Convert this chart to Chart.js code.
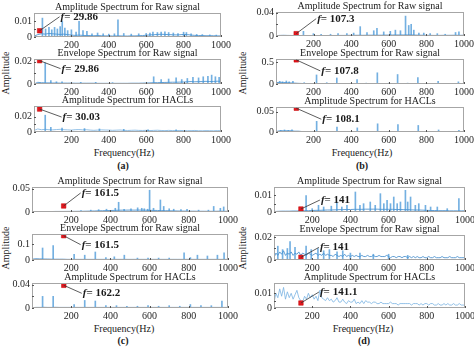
<!DOCTYPE html>
<html>
<head>
<meta charset="utf-8">
<script src="https://cdn.jsdelivr.net/npm/chart.js@4.4.1/dist/chart.umd.min.js"></script>
<style>
  body { margin: 0; width: 474px; height: 347px; position: relative; overflow: hidden; background: #fff;
         font-family: "Liberation Serif", "Times New Roman", serif; color: #1a1a1a; }
  canvas { position: absolute; }
  .txt { position: absolute; white-space: nowrap; transform: translate(-50%, -50%); font-size: 10px; }
  .ylab { position: absolute; white-space: nowrap; font-size: 10px; transform: translate(-50%, -50%) rotate(-90deg); }
  .cap { font-weight: bold; }
</style>
</head>
<body>
<div class="ylab" style="left:5px;top:73px">Amplitude</div>
<div class="ylab" style="left:242px;top:73px">Amplitude</div>
<div class="ylab" style="left:5px;top:248px">Amplitude</div>
<div class="ylab" style="left:242px;top:248px">Amplitude</div>
<div class="txt" style="left:124px;top:152px">Frequency(Hz)</div>
<div class="txt" style="left:362px;top:152px">Frequency(Hz)</div>
<div class="txt" style="left:124px;top:328px">Frequency(Hz)</div>
<div class="txt" style="left:363px;top:328px">Frequency(Hz)</div>
<div class="txt cap" style="left:123px;top:165px">(a)</div>
<div class="txt cap" style="left:362px;top:165px">(b)</div>
<div class="txt cap" style="left:123px;top:340px">(c)</div>
<div class="txt cap" style="left:364px;top:340px">(d)</div>
<script>
/*
 * Espectros de amplitud / envolvente / HACLs, 4 casos (a)-(d).
 * Piso de ruido: un valor cada 20 Hz (o cada 10 Hz) de 0 a 1000 Hz.
 * Picos: frecuencia y amplitud.
 */
const X_TICKS = [200, 400, 600, 800, 1000];
const TITLE_RAW = 'Amplitude Spectrum for Raw signal';
const TITLE_ENV = 'Envelope Spectrum for Raw signal';
const TITLE_HACL = 'Amplitude Spectrum for HACLs';

// ---- (a)
const A1_FLOOR = [.0005, .0015, .0020, .0018, .0022, .0020, .0018, .0016, .0018, .0015, .0012,
  .0010, .0012, .0010, .0009, .0009, .0008, .0009, .0008, .0007, .0007,
  .0006, .0007, .0007, .0006, .0006, .0007, .0007, .0008, .0009, .0011,
  .0013, .0014, .0016, .0017, .0016, .0015, .0014, .0013, .0014, .0016,
  .0015, .0012, .0010, .0009, .0009, .0008, .0008, .0008, .0007, .0007];
const A1_PEAK_HZ = [45, 62, 80, 95, 110, 125, 140, 151, 165, 180, 200, 225, 241, 262, 283, 310, 340, 370, 400, 430, 449,
  480, 520, 560, 600, 620, 636, 660, 680, 700, 720, 745, 770, 800, 815, 840, 870, 900, 940, 975];
const A1_PEAK_AMP = [.0118, .005, .006, .0045, .006, .005, .0065, .0100, .0055, .004, .0045, .003, .0098, .0040, .0035, .002, .0025, .002, .0018, .0020, .0108,
  .0022, .0018, .002, .0022, .0025, .0030, .0028, .0030, .0032, .0028, .0025, .0022, .0030, .0028, .0020, .0016, .0015, .0013, .0012];

const A2_FLOOR = [0, .0015, .0012, .0010, .0010, .0009, .0009, .0008, .0008, .0008, .0008,
  .0007, .0007, .0007, .0007, .0007, .0007, .0006, .0006, .0006, .0006,
  .0006, .0006, .0006, .0006, .0006, .0007, .0007, .0007, .0008, .0009,
  .0010, .0012, .0012, .0013, .0014, .0015, .0016, .0016, .0017, .0018,
  .0020, .0022, .0020, .0021, .0022, .0024, .0022, .0023, .0025, .0024];
const A2_PEAK_HZ = [60, 90, 120, 150, 250, 330, 420, 640, 680, 720, 760, 790, 820, 850, 880, 905, 930, 950, 970, 990];
const A2_PEAK_AMP = [.019, .003, .002, .002, .0015, .0015, .0012, .0065, .004, .0045, .0055, .004, .005, .006, .0055, .0065, .007, .008, .0065, .006];

const A3_FLOOR = [.002, .004, .003, .0035, .003, .0028, .0032, .0035, .003, .0028, .0025,
  .003, .0032, .0028, .003, .0025, .0022, .0025, .0028, .0026, .0025,
  .0022, .0024, .0026, .0022, .002, .0022, .0024, .0021, .002, .0022,
  .0019, .0021, .0023, .002, .0018, .0021, .0019, .0018, .002, .0019,
  .0017, .0018, .002, .0017, .0016, .0018, .0017, .0016, .0018, .0017];
const A3_PEAK_HZ = [60, 90, 150, 270, 350, 480, 610, 760];
const A3_PEAK_AMP = [.022, .006, .005, .0045, .004, .0035, .003, .003];

// ---- (b)
const B1_FLOOR = [.0005, .001, .0012, .001, .0009, .0008, .0008, .0009, .0008, .0008, .0008,
  .0007, .0008, .0008, .0009, .0009, .0009, .001, .001, .0011, .0012,
  .0012, .0013, .0012, .0013, .0014, .0014, .0013, .0014, .0015, .0016,
  .0017, .0018, .0017, .0018, .0019, .0018, .0016, .0014, .0013, .0012,
  .0011, .001, .001, .0011, .0012, .0012, .0013, .0013, .0012, .0012];
const B1_PEAK_HZ = [146, 199, 240, 290, 330, 377, 413, 448, 484, 520, 537, 573, 608, 635, 662, 689, 706, 719, 733, 760, 786, 820, 858, 900, 955, 973];
const B1_PEAK_AMP = [.008, .004, .003, .003, .004, .004, .005, .016, .006, .009, .013, .007, .008, .01, .009, .034, .018, .02, .01, .005, .005, .004, .004, .003, .006, .007];

const B2_FLOOR = [.03, .04, .035, .03, .025, .02, .015, .012, .012, .01, .01,
  .01, .01, .009, .009, .008, .008, .008, .007, .007, .007,
  .007, .006, .006, .006, .006, .006, .006, .006, .006, .006,
  .005, .005, .005, .005, .005, .005, .005, .005, .005, .005,
  .005, .005, .005, .005, .005, .005, .005, .005, .005, .005];
const B2_PEAK_HZ = [20, 35, 55, 70, 90, 150, 215.6, 270, 323.4, 431.2, 480, 539, 600, 646.8, 700, 754.6, 862.4, 970.2];
const B2_PEAK_AMP = [.06, .05, .07, .05, .06, .03, .21, .03, .14, .1, .02, .26, .02, .22, .02, .15, .06, .05];

const B3_FLOOR = [.001, .003, .003, .003, .003, .002, .002, .001, .001, .001, .001,
  .001, .001, .001, .001, .001, .001, .001, .001, .001, .001,
  .001, .001, .001, .001, .001, .001, .001, .001, .001, .001,
  .001, .001, .001, .001, .001, .001, .001, .001, .001, .001,
  .001, .001, .001, .001, .001, .001, .001, .001, .001, .001];
const B3_PEAK_HZ = [25, 45, 65, 85, 216.2, 324.3, 432.4, 540.5, 648.6, 756.7, 864.8, 972.9];
const B3_PEAK_AMP = [.004, .005, .004, .005, .026, .012, .01, .02, .018, .016, .005, .004];

// ---- (c)
const C1_FLOOR = [.0005, .001, .001, .001, .001, .001, .0012, .0012, .0012, .0013, .0013,
  .0014, .0015, .0016, .0018, .002, .0022, .0025, .0028, .003, .0032,
  .0035, .0038, .004, .004, .0042, .004, .0042, .004, .0038, .0036,
  .0035, .0033, .003, .0028, .0026, .0024, .0022, .002, .002, .0018,
  .0018, .0017, .0016, .0016, .0015, .0015, .0016, .0018, .0016, .0015];
const C1_PEAK_HZ = [250, 300, 340, 380, 425, 442, 470, 505, 539, 560, 573, 590, 600, 620, 655, 672, 700, 723, 760, 791, 850, 900, 927, 961, 978];
const C1_PEAK_AMP = [.003, .004, .005, .006, .008, .021, .006, .007, .009, .008, .007, .006, .047, .008, .026, .012, .007, .006, .005, .006, .004, .004, .012, .008, .011];

const C2_FLOOR = [.005, .008, .007, .006, .006, .005, .005, .005, .005, .004, .004,
  .004, .004, .004, .004, .004, .004, .004, .004, .004, .004,
  .004, .004, .004, .004, .004, .004, .004, .004, .004, .004,
  .004, .004, .004, .004, .004, .004, .004, .004, .004, .004,
  .004, .004, .004, .004, .004, .004, .004, .004, .004, .004];
const C2_PEAK_HZ = [54, 108, 215, 269, 323, 377, 420, 471, 538, 592, 646, 700, 776, 808, 844, 895, 946, 980];
const C2_PEAK_AMP = [.075, .09, .035, .03, .05, .015, .02, .03, .012, .012, .012, .012, .045, .015, .03, .025, .03, .045];

const C3_FLOOR = [.0005, .001, .001, .0012, .001, .001, .0012, .001, .001, .001, .001,
  .001, .001, .001, .001, .001, .001, .001, .001, .001, .001,
  .001, .001, .001, .001, .001, .001, .001, .001, .001, .001,
  .001, .001, .001, .001, .001, .001, .001, .001, .001, .001,
  .001, .001, .001, .001, .001, .001, .001, .001, .001, .001];
const C3_PEAK_HZ = [54, 108, 215, 269, 323, 377, 431, 484, 538, 592, 646, 700, 754, 808, 862, 915, 969];
const C3_PEAK_AMP = [.02, .02, .006, .013, .012, .004, .004, .003, .003, .004, .003, .004, .003, .006, .004, .004, .012];

// ---- (d)
const D1_FLOOR = [.0003, .0004, .0005, .0005, .0005, .0006, .0006, .0007, .0008, .0008, .0009,
  .001, .001, .0011, .0012, .0012, .0013, .0014, .0014, .0015, .0015,
  .0016, .0016, .0016, .0017, .0017, .0017, .0017, .0016, .0016, .0016,
  .0016, .0015, .0015, .0014, .0014, .0013, .0012, .0012, .0011, .001,
  .0009, .0009, .0008, .0008, .0008, .0007, .0007, .0007, .0007, .0007];
const D1_PEAK_HZ = [168, 200, 233, 260, 300, 329, 355, 382, 426, 450, 469, 504, 530, 557, 575, 592, 610, 627, 645, 662, 688, 700, 715, 740, 758, 793, 820, 855, 907, 968];
const D1_PEAK_AMP = [.0098, .002, .004, .003, .0035, .006, .003, .004, .012, .004, .005, .006, .004, .011, .005, .007, .005, .009, .005, .006, .013, .006, .009, .004, .005, .004, .003, .003, .002, .008];

// cada 10 Hz
const D2_FLOOR = [.002, .006, .004, .007, .005, .008, .004, .006, .005, .007,
  .004, .006, .005, .007, .004, .006, .005, .004, .006, .005,
  .004, .005, .006, .004, .005, .004, .006, .004, .005, .004,
  .004, .003, .005, .004, .003, .004, .003, .005, .003, .004,
  .003, .004, .003, .004, .003, .003, .004, .003, .003, .004,
  .003, .003, .004, .003, .003, .004, .003, .003, .003, .004,
  .003, .002, .003, .003, .002, .003, .003, .002, .003, .003,
  .002, .003, .002, .003, .002, .003, .002, .002, .003, .002,
  .002, .003, .002, .002, .003, .002, .002, .002, .003, .002,
  .002, .002, .003, .002, .002, .002, .003, .002, .002, .002, .002];
const D2_PEAK_HZ = [20, 45, 70, 84, 110, 168, 195, 230, 260, 290, 330, 360, 400, 450, 520, 600, 700];
const D2_PEAK_AMP = [.012, .009, .010, .016, .011, .012, .009, .010, .008, .009, .007, .008, .006, .006, .005, .005, .004];

const D3_FLOOR = [.004, .010, .007, .013, .008, .014, .006, .011, .007, .010,
  .006, .009, .012, .007, .005, .004, .008, .006, .010, .007,
  .009, .006, .008, .005, .012, .007, .006, .005, .007, .005,
  .006, .004, .005, .007, .004, .004, .006, .004, .003, .005,
  .004, .004, .006, .003, .004, .003, .005, .003, .005, .004,
  .004, .003, .004, .004, .003, .003, .004, .003, .003, .003,
  .003, .004, .003, .003, .003, .002, .003, .003, .003, .003,
  .003, .003, .002, .003, .003, .003, .002, .003, .002, .003,
  .003, .002, .003, .003, .002, .002, .003, .002, .002, .003,
  .002, .003, .002, .002, .003, .002, .002, .003, .002, .002, .002];
const D3_PEAK_HZ = [];
const D3_PEAK_AMP = [];

// frecuencia marcada (cuadro rojo) y su amplitud
const MARK_HZ  = [29.86, 29.86, 30.03, 107.3, 107.8, 108.1, 161.5, 161.5, 162.2, 141, 141, 141.1];
const MARK_AMP = [.0039, .021, .030, .004, .56, .058, .013, .152, .039, .0018, .0023, .0034];

const Y_MAX = [.015, .0225, .034, .041, .58, .061, .054, .1625, .043, .015, .0217, .017];
const Y_TICKS = [[0, .005, .01], [0, .01, .02], [0, .01, .02],
                 [0, .02, .04], [0, .5], [0, .05],
                 [0, .05], [0, .1], [0, .02, .04],
                 [0, .005, .01], [0, .01, .02], [0, .005, .01]];

// caja de cada subgráfico [izq, arriba, der, abajo], columna y desplazamiento del texto
const PLOTS = [
  { col: 0,   box: [34, 13, 221, 37],   floor: A1_FLOOR, hz: A1_PEAK_HZ, amp: A1_PEAK_AMP, title: TITLE_RAW,  dx: 21, dy: -14 },
  { col: 0,   box: [34, 59, 221, 84],   floor: A2_FLOOR, hz: A2_PEAK_HZ, amp: A2_PEAK_AMP, title: TITLE_ENV,  dx: 22, dy: 8 },
  { col: 0,   box: [34, 106, 221, 132], floor: A3_FLOOR, hz: A3_PEAK_HZ, amp: A3_PEAK_AMP, title: TITLE_HACL, dx: 23, dy: 8, light: true },
  { col: 237, box: [276, 12, 464, 36],  floor: B1_FLOOR, hz: B1_PEAK_HZ, amp: B1_PEAK_AMP, title: TITLE_RAW,  dx: 21, dy: -15 },
  { col: 237, box: [276, 59, 464, 84],  floor: B2_FLOOR, hz: B2_PEAK_HZ, amp: B2_PEAK_AMP, title: TITLE_ENV,  dx: 25, dy: 11 },
  { col: 237, box: [276, 107, 464, 132],floor: B3_FLOOR, hz: B3_PEAK_HZ, amp: B3_PEAK_AMP, title: TITLE_HACL, dx: 26, dy: 11 },
  { col: 0,   box: [32, 187, 228, 212], floor: C1_FLOOR, hz: C1_PEAK_HZ, amp: C1_PEAK_AMP, title: TITLE_RAW,  dx: 18, dy: -13 },
  { col: 0,   box: [32, 234, 228, 260], floor: C2_FLOOR, hz: C2_PEAK_HZ, amp: C2_PEAK_AMP, title: TITLE_ENV,  dx: 18, dy: 9 },
  { col: 0,   box: [32, 283, 228, 308], floor: C3_FLOOR, hz: C3_PEAK_HZ, amp: C3_PEAK_AMP, title: TITLE_HACL, dx: 19, dy: 8 },
  { col: 237, box: [274, 187, 465, 212],floor: D1_FLOOR, hz: D1_PEAK_HZ, amp: D1_PEAK_AMP, title: TITLE_RAW,  dx: 20, dy: -9 },
  { col: 237, box: [274, 235, 465, 260],floor: D2_FLOOR, hz: D2_PEAK_HZ, amp: D2_PEAK_AMP, title: TITLE_ENV,  dx: 19, dy: -10 },
  { col: 237, box: [274, 283, 465, 308],floor: D3_FLOOR, hz: D3_PEAK_HZ, amp: D3_PEAK_AMP, title: TITLE_HACL, dx: 19, dy: -11, light: true },
];

const SERIF = '"Liberation Serif", "Times New Roman", serif';
const LINE_COLOR = '#3a87c9';
const LINE_LIGHT = '#78b2e2';
const PEAK_COLOR = 'rgba(70,150,215,0.75)';
const FRAME = '#a6a6a6';
const PAD_TOP = 14, PAD_RIGHT = 14, X_AXIS_H = 14;

Chart.defaults.animation = false;
Chart.defaults.font.family = SERIF;

function floorPoints(vals) {
  const step = 1000 / (vals.length - 1);
  return vals.map((v, i) => ({ x: i * step, y: v }));
}

// marco tipo MATLAB, título y etiqueta "f= ..."
const specPlugin = {
  id: 'spec',
  afterDraw(chart, args, o) {
    const { ctx, chartArea: a, scales: { x, y } } = chart;
    ctx.save();
    ctx.strokeStyle = FRAME; ctx.lineWidth = 1;
    ctx.strokeRect(a.left + 0.5, a.top + 0.5, a.right - a.left - 1, a.bottom - a.top - 1);
    ctx.strokeStyle = '#555';
    ctx.beginPath();
    X_TICKS.forEach(v => {
      const px = Math.round(x.getPixelForValue(v)) + 0.5;
      ctx.moveTo(px, a.bottom); ctx.lineTo(px, a.bottom - 2);
    });
    o.yTicks.forEach(v => {
      const py = Math.round(y.getPixelForValue(v)) + 0.5;
      ctx.moveTo(a.left, py); ctx.lineTo(a.left + 2, py);
    });
    ctx.stroke();

    ctx.fillStyle = '#1a1a1a';
    ctx.font = '10px ' + SERIF;
    ctx.textAlign = 'center'; ctx.textBaseline = 'alphabetic';
    ctx.fillText(o.title, (a.left + a.right) / 2, a.top - 3);

    const mx = x.getPixelForValue(o.markHz), my = y.getPixelForValue(o.markAmp);
    const tx = mx + o.dx, ty = my + o.dy;
    ctx.strokeStyle = '#333'; ctx.lineWidth = 0.8;
    ctx.beginPath(); ctx.moveTo(mx, my); ctx.lineTo(tx - 1, ty); ctx.stroke();
    ctx.textAlign = 'left'; ctx.textBaseline = 'middle';
    ctx.font = 'italic bold 11px ' + SERIF;
    ctx.fillText('f', tx, ty);
    const w = ctx.measureText('f').width;
    ctx.font = 'bold 11px ' + SERIF;
    ctx.fillText('= ' + o.markHz, tx + w, ty);
    ctx.restore();
  }
};

PLOTS.forEach((p, i) => {
  const [l, t, r, b] = p.box;
  const cv = document.createElement('canvas');
  const W = r - p.col + PAD_RIGHT, H = (b - t) + PAD_TOP + X_AXIS_H;
  cv.width = W; cv.height = H;
  cv.style.width = W + 'px'; cv.style.height = H + 'px';
  cv.style.left = p.col + 'px'; cv.style.top = (t - PAD_TOP) + 'px';
  document.body.appendChild(cv);

  const tickFont = { family: SERIF, size: 10 };
  new Chart(cv, {
    type: 'line',
    data: {
      datasets: [
        { type: 'line', data: [{ x: MARK_HZ[i], y: MARK_AMP[i] }], showLine: false,
          pointStyle: 'rect', pointRadius: 3.2, backgroundColor: '#e4161d', borderColor: '#c00000', borderWidth: 0.5, order: 0 },
        { type: 'bar', data: p.hz.map((f, k) => ({ x: f, y: p.amp[k] })), backgroundColor: PEAK_COLOR,
          barThickness: 1, order: 1 },
        { type: 'line', data: floorPoints(p.floor), borderColor: p.light ? LINE_LIGHT : LINE_COLOR, borderWidth: 0.8,
          pointRadius: 0, tension: 0, fill: false, order: 2 },
      ],
    },
    options: {
      responsive: false,
      layout: { autoPadding: false, padding: { top: PAD_TOP, right: PAD_RIGHT, left: 0, bottom: 0 } },
      plugins: {
        legend: { display: false }, tooltip: { enabled: false },
        spec: { title: p.title, markHz: MARK_HZ[i], markAmp: MARK_AMP[i], dx: p.dx, dy: p.dy, yTicks: Y_TICKS[i] },
      },
      scales: {
        x: {
          type: 'linear', min: 0, max: 1000, offset: false,
          afterFit: s => { s.height = X_AXIS_H; },
          afterBuildTicks: s => { s.ticks = X_TICKS.map(v => ({ value: v })); },
          grid: { display: false, drawTicks: false }, border: { display: false },
          ticks: { font: tickFont, color: '#262626', padding: 2, maxRotation: 0, autoSkip: false, callback: v => String(v) },
        },
        y: {
          min: 0, max: Y_MAX[i],
          afterFit: s => { s.width = l - p.col; },
          afterBuildTicks: s => { s.ticks = Y_TICKS[i].map(v => ({ value: v })); },
          grid: { display: false, drawTicks: false }, border: { display: false },
          ticks: { font: tickFont, color: '#262626', padding: 2, callback: v => String(v) },
        },
      },
    },
    plugins: [specPlugin],
  });
});
</script>
</body>
</html>
